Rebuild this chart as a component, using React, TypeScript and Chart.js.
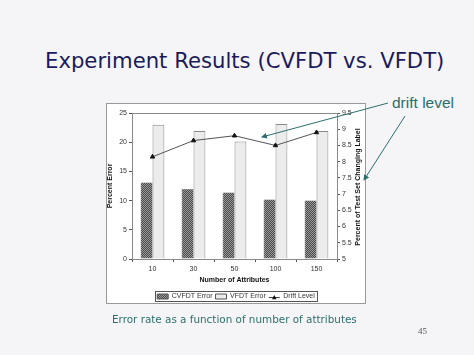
import React, { useEffect, useRef } from "react";
import { Chart, registerables } from "chart.js";

Chart.register(...registerables);

const categories = ["10", "30", "50", "100", "150"];
const cvfdtError = [13.1, 12.0, 11.4, 10.2, 10.0];
const vfdtError = [23.0, 21.9, 20.1, 23.1, 21.9];
const driftLevel = [8.15, 8.65, 8.8, 8.5, 8.9];
const leftTicks = { min: 0, max: 25, step: 5 };
const rightTicks = { min: 5, max: 9.5, step: 0.5 };

const NAVY = "#1b1b5c";
const TEAL = "#2c6e6c";
const AX_FONT = "'Liberation Sans', Arial, sans-serif";
const LEG_BOX_W = 11;

function makePattern(): CanvasPattern | string {
  const c = document.createElement("canvas");
  c.width = 2;
  c.height = 2;
  const g = c.getContext("2d");
  if (!g) return "#777";
  g.fillStyle = "#9a9a9a";
  g.fillRect(0, 0, 2, 2);
  g.fillStyle = "#4a4a4a";
  g.fillRect(0, 0, 1, 1);
  g.fillRect(1, 1, 1, 1);
  const p = g.createPattern(c, "repeat");
  return p || "#777";
}

const framePlugin = {
  id: "frameExtras",
  beforeDraw(chart: any) {
    const { ctx, width, height } = chart;
    ctx.save();
    ctx.fillStyle = "#ffffff";
    ctx.fillRect(0, 0, width, height);
    ctx.strokeStyle = "#9a9a9a";
    ctx.lineWidth = 1;
    ctx.strokeRect(0.5, 0.5, width - 1, height - 1);
    ctx.restore();
  },
  afterDraw(chart: any) {
    const { ctx, chartArea } = chart;
    ctx.save();
    ctx.strokeStyle = "#8a8a8a";
    ctx.lineWidth = 1;
    ctx.strokeRect(
      Math.round(chartArea.left) + 0.5,
      Math.round(chartArea.top) + 0.5,
      Math.round(chartArea.right - chartArea.left),
      Math.round(chartArea.bottom - chartArea.top)
    );
    const lg = chart.legend;
    if (lg && lg.legendHitBoxes && lg.legendHitBoxes.length) {
      const hb = lg.legendHitBoxes;
      let l = Infinity, r = -Infinity, t = Infinity, b = -Infinity;
      hb.forEach((h: any) => {
        l = Math.min(l, h.left);
        r = Math.max(r, h.left + h.width);
        t = Math.min(t, h.top);
        b = Math.max(b, h.top + h.height);
      });
      ctx.strokeStyle = "#555";
      ctx.strokeRect(Math.round(l - 2) + 0.5, Math.round(t - 2) + 0.5, Math.round(r - l + 4), Math.round(b - t + 3));
      const h = hb[hb.length - 1];
      const cx = h.left + LEG_BOX_W / 2;
      const cy = Math.round(h.top + h.height / 2) + 0.5;
      ctx.strokeStyle = "#444";
      ctx.beginPath();
      ctx.moveTo(h.left, cy);
      ctx.lineTo(h.left + LEG_BOX_W, cy);
      ctx.stroke();
      ctx.fillStyle = "#111";
      ctx.beginPath();
      ctx.moveTo(cx, cy - 2.5);
      ctx.lineTo(cx + 2.3, cy + 1.8);
      ctx.lineTo(cx - 2.3, cy + 1.8);
      ctx.closePath();
      ctx.fill();
    }
    ctx.restore();
  },
};

function ChartBox() {
  const ref = useRef<HTMLCanvasElement | null>(null);
  useEffect(() => {
    if (!ref.current) return;
    const pattern = makePattern();
    const chart = new Chart(ref.current, {
      type: "bar",
      data: {
        labels: categories,
        datasets: [
          {
            type: "bar",
            label: "CVFDT Error",
            data: cvfdtError,
            backgroundColor: pattern as any,
            borderColor: "#555",
            borderWidth: 0.5,
            yAxisID: "y",
            order: 2,
            categoryPercentage: 0.58,
            barPercentage: 1,
          },
          {
            type: "bar",
            label: "VFDT Error",
            data: vfdtError,
            backgroundColor: "#ececec",
            borderColor: "#8a8a8a",
            borderWidth: 1,
            yAxisID: "y",
            order: 2,
            categoryPercentage: 0.58,
            barPercentage: 1,
          },
          {
            type: "line",
            label: "Drift Level",
            data: driftLevel,
            borderColor: "#555",
            borderWidth: 1,
            pointStyle: "triangle",
            pointRadius: 2.5,
            pointBackgroundColor: "#111",
            pointBorderColor: "#111",
            yAxisID: "y1",
            order: 1,
          },
        ] as any,
      },
      options: {
        responsive: false,
        animation: false,
        layout: { padding: { top: 10, left: 0, right: 0, bottom: 0 } },
        plugins: {
          tooltip: { enabled: false },
          legend: {
            position: "bottom",
            maxHeight: 14,
            labels: {
              font: { family: AX_FONT, size: 7 },
              color: "#333",
              boxWidth: LEG_BOX_W,
              boxHeight: 5,
              padding: 3,
              sort: (a: any, b: any) => a.datasetIndex - b.datasetIndex,
              generateLabels: (ch: any) => {
                const base = Chart.defaults.plugins.legend.labels.generateLabels(ch);
                return base.map((it: any) => {
                  if (it.datasetIndex === 2) {
                    return { ...it, fillStyle: "rgba(0,0,0,0)", strokeStyle: "rgba(0,0,0,0)", lineWidth: 0 };
                  }
                  return { ...it, lineWidth: 1, strokeStyle: "#555" };
                });
              },
            },
          },
        } as any,
        scales: {
          x: {
            offset: true,
            grid: { display: true, drawOnChartArea: false, offset: true, tickLength: 3, color: "#555" },
            border: { color: "#555" },
            ticks: { font: { family: AX_FONT, size: 7 }, color: "#333", padding: 3 },
            title: {
              display: true,
              text: "Number of Attributes",
              font: { family: AX_FONT, size: 7, weight: "bold" },
              color: "#111",
              padding: { top: 2, bottom: 6 },
            },
            afterFit: (s: any) => {
              s.height = 31;
            },
          },
          y: {
            position: "left",
            min: leftTicks.min,
            max: leftTicks.max,
            grid: { display: true, drawOnChartArea: false, tickLength: 3, color: "#555" },
            border: { color: "#555" },
            ticks: { stepSize: leftTicks.step, font: { family: AX_FONT, size: 7 }, color: "#333", padding: 2 },
            title: {
              display: true,
              text: "Percent Error",
              font: { family: AX_FONT, size: 7, weight: "bold" },
              color: "#111",
              padding: 0,
            },
            afterFit: (s: any) => {
              s.width = 26;
            },
          },
          y1: {
            position: "right",
            min: rightTicks.min,
            max: rightTicks.max,
            grid: { display: true, drawOnChartArea: false, tickLength: 3, color: "#555" },
            border: { color: "#555" },
            ticks: {
              stepSize: rightTicks.step,
              font: { family: AX_FONT, size: 7 },
              color: "#333",
              padding: 2,
              callback: (v: any) => String(Math.round(Number(v) * 10) / 10),
            },
            afterFit: (s: any) => {
              s.width = 29;
            },
          },
        },
      } as any,
      plugins: [framePlugin],
    });
    return () => chart.destroy();
  }, []);
  return (
    <canvas
      ref={ref}
      width={260}
      height={201}
      style={{ position: "absolute", left: 106, top: 103, width: 260, height: 201 }}
    />
  );
}

export default function App() {
  return (
    <div
      style={{
        position: "absolute",
        left: 0,
        top: 0,
        width: 474,
        height: 355,
        background: "#f5f5f7",
        overflow: "hidden",
      }}
    >
      <div
        style={{
          position: "absolute",
          left: 45,
          top: 48,
          whiteSpace: "nowrap",
          fontFamily: "'DejaVu Sans', Verdana, sans-serif",
          fontSize: 21.2,
          color: NAVY,
        }}
      >
        Experiment Results (CVFDT vs. VFDT)
      </div>
      <ChartBox />
      <div
        style={{
          position: "absolute",
          left: 357,
          top: 187,
          transform: "translate(-50%, -50%) rotate(-90deg)",
          whiteSpace: "nowrap",
          fontFamily: AX_FONT,
          fontWeight: "bold",
          fontSize: 7,
          color: "#111",
        }}
      >
        Percent of Test Set Changing Label
      </div>
      <div
        style={{
          position: "absolute",
          left: 392,
          top: 94,
          whiteSpace: "nowrap",
          fontFamily: AX_FONT,
          fontSize: 15.5,
          color: TEAL,
        }}
      >
        drift level
      </div>
      <svg
        width={474}
        height={355}
        style={{ position: "absolute", left: 0, top: 0, pointerEvents: "none" }}
      >
        <defs>
          <marker id="ah" markerWidth="6" markerHeight="6" refX="5" refY="3" orient="auto" markerUnits="userSpaceOnUse">
            <path d="M0,0 L6,3 L0,6 Z" fill={TEAL} />
          </marker>
        </defs>
        <line x1={388} y1={103} x2={262} y2={137} stroke={TEAL} strokeWidth={1} markerEnd="url(#ah)" />
        <line x1={405} y1={116} x2={364} y2={180} stroke={TEAL} strokeWidth={1} markerEnd="url(#ah)" />
      </svg>
      <div
        style={{
          position: "absolute",
          left: 112,
          top: 313,
          whiteSpace: "nowrap",
          fontFamily: "'DejaVu Sans', Tahoma, sans-serif",
          fontSize: 10.4,
          color: TEAL,
        }}
      >
        Error rate as a function of number of attributes
      </div>
      <div
        style={{
          position: "absolute",
          left: 418,
          top: 326,
          whiteSpace: "nowrap",
          fontFamily: "'Liberation Serif', serif",
          fontSize: 9,
          color: "#555",
        }}
      >
        45
      </div>
    </div>
  );
}
